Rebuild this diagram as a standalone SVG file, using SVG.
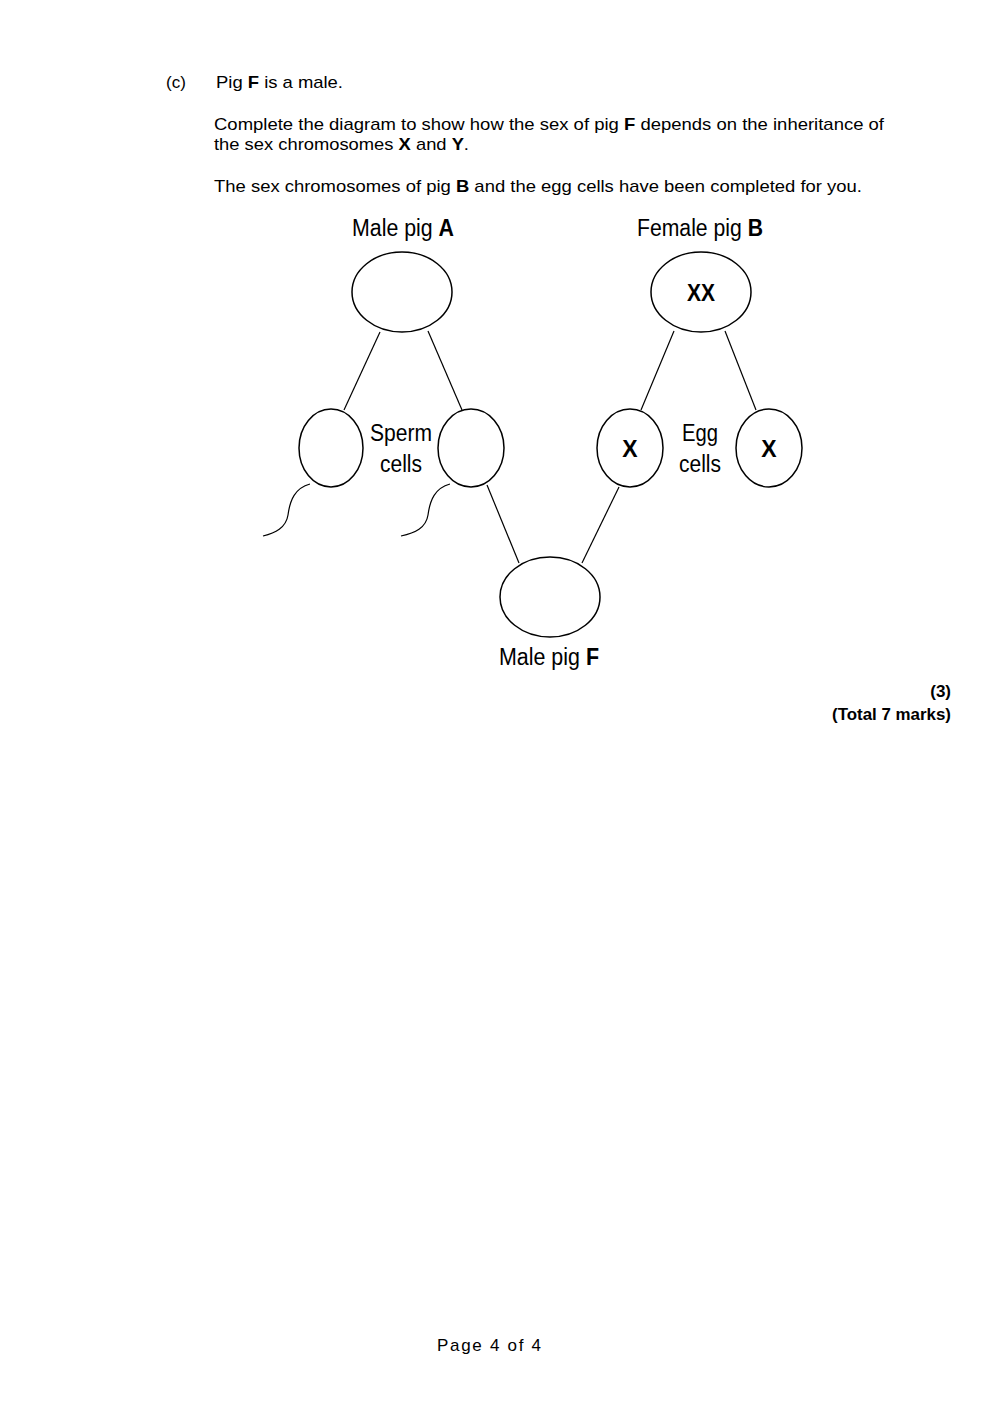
<svg xmlns="http://www.w3.org/2000/svg" width="1000" height="1413" viewBox="0 0 1000 1413">
<style>
.t{font-family:"Liberation Sans",Arial,sans-serif;font-size:17px;fill:#000}
.d{font-family:"Liberation Sans",Arial,sans-serif;font-size:23px;fill:#000}
.c{fill:#fff;stroke:#000;stroke-width:1.5}
.l{stroke:#000;stroke-width:1.2;fill:none}
</style>
<rect width="1000" height="1413" fill="#fff"/>
<text class="t" x="166" y="88">(c)</text>
<text class="t" x="216" y="88" textLength="127" lengthAdjust="spacingAndGlyphs">Pig <tspan font-weight="bold">F</tspan> is a male.</text>
<text class="t" x="214" y="130" textLength="670" lengthAdjust="spacingAndGlyphs">Complete the diagram to show how the sex of pig <tspan font-weight="bold">F</tspan> depends on the inheritance of</text>
<text class="t" x="214" y="150" textLength="255" lengthAdjust="spacingAndGlyphs">the sex chromosomes <tspan font-weight="bold">X</tspan> and <tspan font-weight="bold">Y</tspan>.</text>
<text class="t" x="214" y="192" textLength="648" lengthAdjust="spacingAndGlyphs">The sex chromosomes of pig <tspan font-weight="bold">B</tspan> and the egg cells have been completed for you.</text>
<g id="connectors">
<line class="l" x1="380" y1="332" x2="344" y2="410"/>
<line class="l" x1="428" y1="331" x2="462" y2="410"/>
<line class="l" x1="674" y1="331" x2="641" y2="410"/>
<line class="l" x1="725" y1="331" x2="756" y2="410"/>
<line class="l" x1="487" y1="485" x2="519" y2="563"/>
<line class="l" x1="619" y1="487" x2="582" y2="563"/>
<path class="l" d="M310,484 C295,488 290,500 288,515 C286,528 275,533 263,536"/>
<path class="l" d="M450,484 C435,488 430,500 428,515 C426,528 415,533 401,536"/>
</g>
<g id="pigA"><text class="d" x="403" y="236" text-anchor="middle" textLength="102" lengthAdjust="spacingAndGlyphs">Male pig <tspan font-weight="bold">A</tspan></text><ellipse class="c" cx="402" cy="292" rx="50" ry="40"/></g>
<g id="pigB"><text class="d" x="700" y="236" text-anchor="middle" textLength="126" lengthAdjust="spacingAndGlyphs">Female pig <tspan font-weight="bold">B</tspan></text><ellipse class="c" cx="701" cy="292" rx="50" ry="40"/><text class="d" x="701" y="301" text-anchor="middle" font-weight="bold" textLength="28" lengthAdjust="spacingAndGlyphs">XX</text></g>
<g id="sperm1"><ellipse class="c" cx="331" cy="448" rx="32" ry="39"/></g>
<g id="sperm2"><ellipse class="c" cx="471" cy="448" rx="33" ry="39"/></g>
<g id="spermLabel"><text class="d" x="401" y="441" text-anchor="middle" textLength="62" lengthAdjust="spacingAndGlyphs">Sperm</text><text class="d" x="401" y="472" text-anchor="middle" textLength="42" lengthAdjust="spacingAndGlyphs">cells</text></g>
<g id="egg1"><ellipse class="c" cx="630" cy="448" rx="33" ry="39"/><text class="d" x="630" y="457" text-anchor="middle" font-weight="bold">X</text></g>
<g id="egg2"><ellipse class="c" cx="769" cy="448" rx="33" ry="39"/><text class="d" x="769" y="457" text-anchor="middle" font-weight="bold">X</text></g>
<g id="eggLabel"><text class="d" x="700" y="441" text-anchor="middle" textLength="36" lengthAdjust="spacingAndGlyphs">Egg</text><text class="d" x="700" y="472" text-anchor="middle" textLength="42" lengthAdjust="spacingAndGlyphs">cells</text></g>
<g id="pigF"><ellipse class="c" cx="550" cy="597" rx="50" ry="40"/><text class="d" x="549" y="665" text-anchor="middle" textLength="100" lengthAdjust="spacingAndGlyphs">Male pig <tspan font-weight="bold">F</tspan></text></g>
<text class="t" x="951" y="697" text-anchor="end" font-weight="bold" font-size="15">(3)</text>
<text class="t" x="951" y="720" text-anchor="end" font-weight="bold" font-size="15" textLength="119" lengthAdjust="spacingAndGlyphs">(Total 7 marks)</text>
<text class="t" x="437" y="1351" font-size="17" textLength="104" lengthAdjust="spacing">Page 4 of 4</text>
</svg>
